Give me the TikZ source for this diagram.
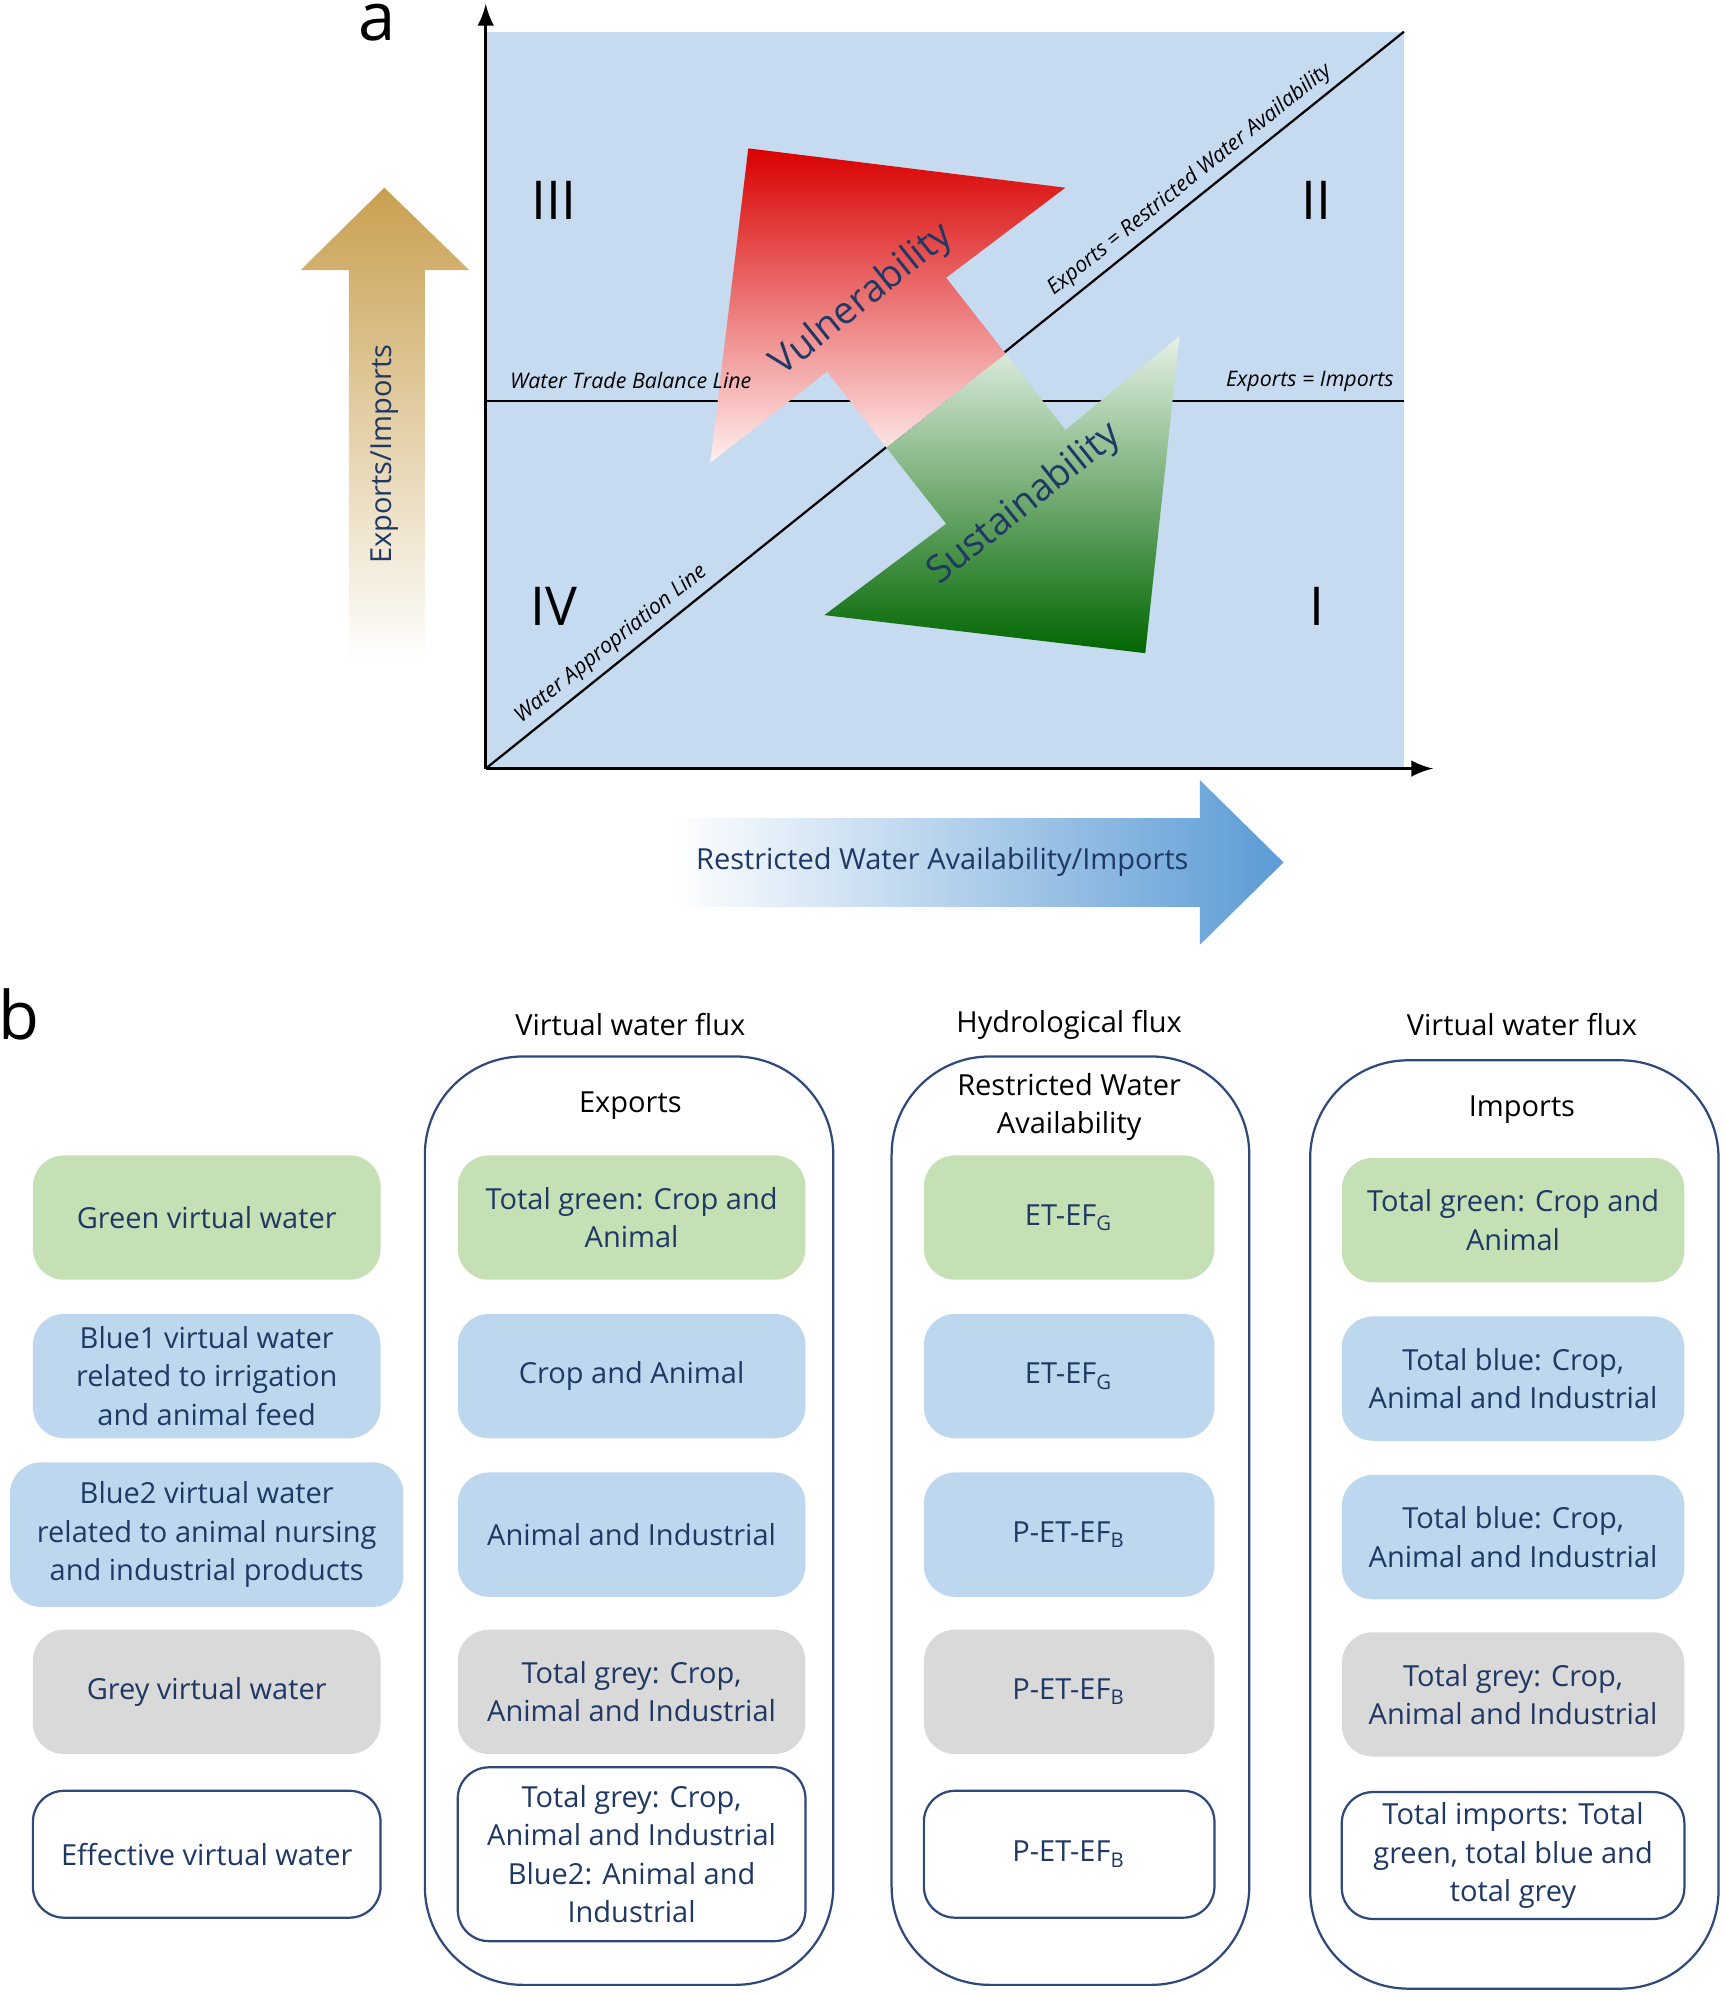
\documentclass[tikz,border=0pt]{standalone}
\usepackage{fontspec}
\setmainfont{Open Sans}
\usetikzlibrary{positioning}
\definecolor{txtblue}{HTML}{1F3864}
\definecolor{panelblue}{HTML}{C6DAF0}
\definecolor{vwgreen}{HTML}{C5E0B4}
\definecolor{vwblue}{HTML}{BDD7EE}
\definecolor{vwgrey}{HTML}{D9D9D9}
\definecolor{frame}{HTML}{2F4A7A}
\definecolor{gold}{HTML}{C9A050}
\definecolor{arrowblue}{HTML}{5B9BD5}
\tikzset{
	box/.style = {rounded corners=7pt, minimum width=2.74cm, minimum height=0.98cm,
		align=center, text=txtblue, font=\fontsize{6.5}{8.6}\selectfont, inner sep=1pt},
	green/.style = {box, fill=vwgreen},
	blue/.style = {box, fill=vwblue},
	grey/.style = {box, fill=vwgrey},
	white/.style = {box, draw=frame, fill=white, line width=0.5pt},
	column/.style = {draw=frame, line width=0.5pt, rounded corners=22pt},
	head/.style = {font=\fontsize{6.5}{8.6}\selectfont, align=center},
	linelabel/.style = {font=\itshape\fontsize{4.8}{6}\selectfont, inner sep=1pt},
	roman/.style = {font=\fontsize{12}{13}\selectfont}
}
\begin{document}
\begin{tikzpicture}[x=0.01cm, y=-0.01cm]
	\useasboundingbox (0,0) rectangle (1360,1573);
	% panel a
	\fill[panelblue] (383,25) rectangle (1107,606);
	\coordinate (o) at (383,606);
	\coordinate (ytop) at (383,3);
	\coordinate (xend) at (1130,606);
	\coordinate (ne) at (1107,25);
	\coordinate (bl) at (383,316);
	\coordinate (br) at (1107,316);
	\draw[-latex, line width=0.7pt] (o) -- (ytop);
	\draw[-latex, line width=0.7pt] (o) -- (xend);
	\draw[line width=0.5pt] (o) -- (ne);
	\draw[line width=0.5pt] (bl) -- (br);
	\node[font=\fontsize{15}{16}\selectfont] (a) at (297,18) {a};
	\node[roman] (q3) at (437,158) {III};
	\node[roman] (q2) at (1038,158) {II};
	\node[roman] (q4) at (437,478) {IV};
	\node[roman] (q1) at (1038,478) {I};
	% double arrow
	\shade[shading angle=38, top color=red!85!black, bottom color=red!6]
		(590,117) -- (840,148) -- (746,219) -- (793,279) -- (699,353) -- (652,293) -- (560,365) -- cycle;
	\shade[shading angle=38, top color=green!30!gray!15, bottom color=green!40!black]
		(793,279) -- (840,339) -- (930,265) -- (903,515) -- (650,485) -- (746,413) -- (699,353) -- cycle;
	\node[linelabel, anchor=west] (wtb) at (398,300) {Water Trade Balance Line};
	\node[linelabel, anchor=east] (ei) at (1103,301) {Exports = Imports};
	\node[linelabel, rotate=38.7] (wal) at (482,508) {Water Appropriation Line};
	\node[linelabel, rotate=38.7] (erw) at (938,142) {Exports = Restricted Water Availability};
	\node[rotate=38.7, text=txtblue, font=\fontsize{8.5}{10}\selectfont] (vul) at (680,237) {Vulnerability};
	\node[rotate=38.7, text=txtblue, font=\fontsize{8.5}{10}\selectfont] (sus) at (808,398) {Sustainability};
	% side arrows
	\shade[top color=gold, bottom color=white]
		(303,148) -- (370,213) -- (335,213) -- (335,522) -- (275,522) -- (275,213) -- (237,213) -- cycle;
	\node[rotate=90, text=txtblue, head] (ex) at (303,358) {Exports/Imports};
	\shade[left color=white, right color=arrowblue]
		(530,645) -- (946,645) -- (946,615) -- (1012,680) -- (946,745) -- (946,715) -- (530,715) -- cycle;
	\node[text=txtblue, head] (rwa) at (743,680) {Restricted Water Availability/Imports};
	% panel b
	\node[font=\fontsize{15}{16}\selectfont] (b) at (15,800) {b};
	\node[head] (h1) at (497,808) {Virtual water flux};
	\node[head] (h2) at (843,808) {Hydrological flux};
	\node[head] (h3) at (1200,808) {Virtual water flux};
	\draw[column] (335,833) rectangle (657,1565);
	\draw[column] (703,833) rectangle (985,1565);
	\draw[column] (1033,836) rectangle (1355,1568);
	\node[head] (c1) at (497,872) {Exports};
	\node[head] (c2) at (843,873) {Restricted Water\\Availability};
	\node[head] (c3) at (1200,875) {Imports};
	% left column
	\node[green] (l1) at (163,960) {Green virtual water};
	\node[blue] (l2) at (163,1085) {Blue1 virtual water\\related to irrigation\\and animal feed};
	\node[blue, minimum width=3.1cm, minimum height=1.14cm] (l3) at (163,1210) {Blue2 virtual water\\related to animal nursing\\and industrial products};
	\node[grey] (l4) at (163,1334) {Grey virtual water};
	\node[white, minimum height=1cm] (l5) at (163,1462) {Effective virtual water};
	% exports
	\node[green] (e1) at (498,960) {Total green: Crop and\\Animal};
	\node[blue] (e2) at (498,1085) {Crop and Animal};
	\node[blue] (e3) at (498,1210) {Animal and Industrial};
	\node[grey] (e4) at (498,1334) {Total grey: Crop,\\Animal and Industrial};
	\node[white, minimum height=1.37cm] (e5) at (498,1462) {Total grey: Crop,\\Animal and Industrial\\Blue2: Animal and\\Industrial};
	% hydrological
	\node[green, minimum width=2.29cm] (w1) at (843,960) {ET-EF\textsubscript{G}};
	\node[blue, minimum width=2.29cm] (w2) at (843,1085) {ET-EF\textsubscript{G}};
	\node[blue, minimum width=2.29cm] (w3) at (843,1210) {P-ET-EF\textsubscript{B}};
	\node[grey, minimum width=2.29cm] (w4) at (843,1334) {P-ET-EF\textsubscript{B}};
	\node[white, minimum width=2.29cm, minimum height=1cm] (w5) at (843,1462) {P-ET-EF\textsubscript{B}};
	% imports
	\node[green, minimum width=2.7cm] (i1) at (1193,962) {Total green: Crop and\\Animal};
	\node[blue, minimum width=2.7cm] (i2) at (1193,1087) {Total blue: Crop,\\Animal and Industrial};
	\node[blue, minimum width=2.7cm] (i3) at (1193,1212) {Total blue: Crop,\\Animal and Industrial};
	\node[grey, minimum width=2.7cm] (i4) at (1193,1336) {Total grey: Crop,\\Animal and Industrial};
	\node[white, minimum width=2.7cm, minimum height=1cm] (i5) at (1193,1463) {Total imports: Total\\green, total blue and\\total grey};
\end{tikzpicture}
\end{document}
